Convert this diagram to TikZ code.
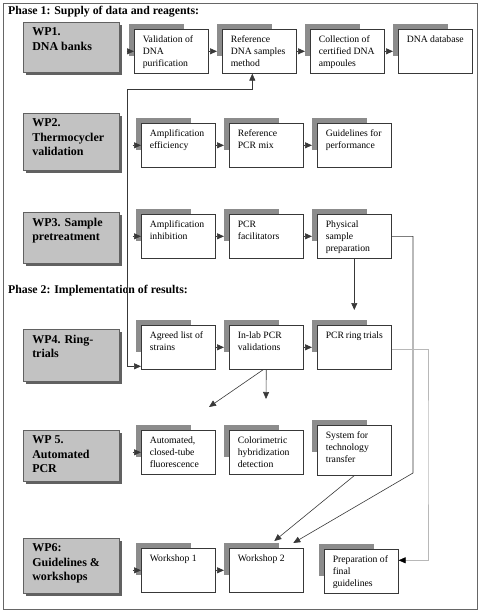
\documentclass[tikz,border=0pt]{standalone}
\usepackage{fontspec}
\setmainfont{Liberation Serif}
\usepackage{tikz}
\usetikzlibrary{arrows.meta}

\definecolor{wpfill}{gray}{0.76}
\definecolor{wpshade}{gray}{0.38}
\definecolor{tabfill}{gray}{0.55}
\definecolor{linecol}{gray}{0.22}
\definecolor{ringcol}{gray}{0.72}

\newcommand{\wpbox}[5]{
  \fill[wpshade] (#2+3,#3+3) rectangle ++(96,#4);
  \node[wp, minimum height=#4pt] (#1) at (#2,#3) {\parbox[c][#4pt][t]{78pt}{\vskip5.5pt #5}};}
\newcommand{\taskbox}[5][44]{
  \fill[tabfill] (#3-5,#4-5) rectangle ++(55,32);
  \node[task, minimum height=#1pt] (#2) at (#3,#4) {\parbox[c][#1pt][t]{57pt}{\vskip6.5pt #5}};}

\begin{document}
\begin{tikzpicture}[x=1pt,y=1pt,yscale=-1,xscale=1,
    wp/.style={draw=wpshade, line width=0.5pt, fill=wpfill, anchor=north west, inner xsep=9pt, inner ysep=0pt, minimum width=96pt, font=\fontsize{12}{14.5}\selectfont\bfseries},
    task/.style={draw=linecol, line width=0.6pt, fill=white, anchor=north west, inner xsep=8.5pt, inner ysep=0pt, minimum width=74pt, font=\fontsize{9.7}{12}\selectfont},
    phase/.style={anchor=base west, inner sep=0pt, font=\fontsize{11.8}{14}\selectfont\bfseries},
    link/.style={draw=linecol, line width=0.6pt},
    arr/.style={link, -{Triangle[length=7pt,width=6pt]}},
    ringarr/.style={draw=ringcol, line width=0.6pt, -{Triangle[length=7pt,width=6pt,color=black]}}]
    \useasboundingbox (0,0) rectangle (480,612);
    \draw[draw=gray!80!black, line width=0.8pt] (3,3) rectangle (477,609);

    \node[phase] (phase1) at (8,15) {Phase 1: Supply of data and reagents:};
    \node[phase] (phase2) at (8,293) {Phase 2: Implementation of results:};

    \wpbox{wp1}{23}{22}{50}{WP1.\\DNA banks}
    \wpbox{wp2}{23}{113}{57}{WP2.\\Thermocycler\\validation}
    \wpbox{wp3}{23}{212}{51}{WP3. Sample\\pretreatment}
    \wpbox{wp4}{23}{329}{52}{WP4. Ring-\\trials}
    \wpbox{wp5}{23}{430}{51}{WP 5.\\Automated\\PCR}
    \wpbox{wp6}{23}{538}{55}{WP6:\\Guidelines \&\\workshops}

    \taskbox{b11}{134}{29}{Validation of\\DNA\\purification}
    \taskbox{b12}{222}{29}{Reference\\DNA samples\\method}
    \taskbox{b13}{310}{29}{Collection of\\certified DNA\\ampoules}
    \taskbox{b14}{398}{29}{DNA database}

    \taskbox{b21}{141}{123}{Amplification\\efficiency}
    \taskbox{b22}{229}{123}{Reference\\PCR mix}
    \taskbox{b23}{317}{123}{Guidelines for\\performance}

    \taskbox{b31}{141}{214}{Amplification\\inhibition}
    \taskbox{b32}{229}{214}{PCR\\facilitators}
    \taskbox{b33}{317}{214}{Physical\\sample\\preparation}

    \taskbox{b41}{141}{325}{Agreed list of\\strains}
    \taskbox{b42}{229}{325}{In-lab PCR\\validations}
    \taskbox{b43}{317}{325}{PCR ring trials}

    \taskbox{b51}{141}{430}{Automated,\\closed-tube\\fluorescence}
    \taskbox{b52}{229}{430}{Colorimetric\\hybridization\\detection}
    \taskbox[50]{b53}{317}{425}{System for\\technology\\transfer}

    \taskbox{b61}{141}{548}{Workshop 1}
    \taskbox{b62}{229}{548}{Workshop 2}
    \taskbox{b63}{324}{549}{Preparation of\\final\\guidelines}

    \foreach \w/\b in {wp1/b11,wp2/b21,wp3/b31,wp5/b51,wp6/b61}
        \draw[arr, shorten <=13pt] (\w.east |- \b.west) -- (\b.west);
    \foreach \a/\b in {b11/b12,b12/b13,b13/b14,b21/b22,b22/b23,b31/b32,b32/b33,b41/b42,b42/b43,b61/b62}
        \draw[arr, shorten >=5pt] (\a.east) -- (\b.west);

    \coordinate (upTurn) at (127,89);
    \coordinate (psBend) at (413,473);
    \coordinate (labDown) at (266,399);
    \coordinate (labLeft) at (209,407);
    \coordinate (ringTurn) at (428,450);

    \draw[link, {Triangle[length=7pt,width=6pt]}-{Triangle[length=7pt,width=6pt]}] ([xshift=-7pt]b12.south) |- (upTurn) |- ([yshift=19pt]b41.west);
    \draw[arr] (b33.east) -| (psBend) -- ([xshift=27pt,yshift=-5pt]b62.north);
    \draw[arr] (b33.south) -- ([yshift=-15pt]b43.north);
    \draw[arr] (b42.south) -- (labDown);
    \draw[arr] ([xshift=-3pt]b42.south) -- (labLeft);
    \draw[arr] (b53.south) -- ([xshift=8pt,yshift=-7pt]b62.north);
    \draw[ringarr] ([yshift=2pt]b43.east) -| (ringTurn) |- ([yshift=-11pt]b63.east);
\end{tikzpicture}
\end{document}
